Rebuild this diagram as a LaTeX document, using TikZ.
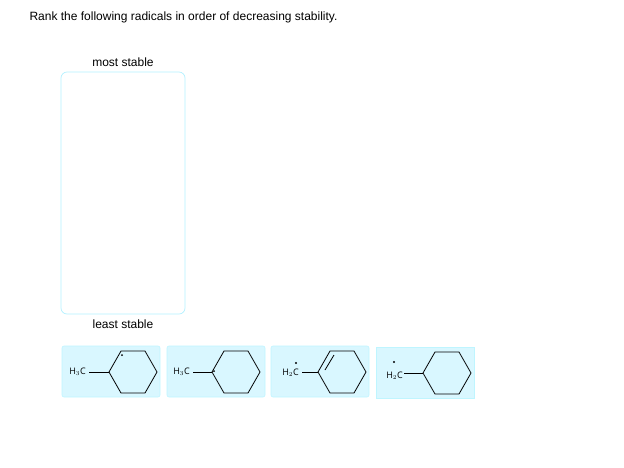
\documentclass[tikz,border=0pt]{standalone}
\usepackage{fontspec}
\setmainfont{Liberation Sans}
\newfontfamily\tilefont{Open Sans}
\begin{document}
\begin{tikzpicture}[x=1pt,y=-1pt,
  tile/.style={fill=blue!20!cyan!15, draw=blue!15!cyan!25, rounded corners=2pt, line width=0.6pt},
  bond/.style={line width=0.8pt, black},
  lbl/.style={font=\tilefont\fontsize{9}{10}\selectfont, inner sep=0pt}]
\useasboundingbox (0,0) rectangle (624,467);
\node[anchor=west, font=\fontsize{12}{14}\selectfont] (title) at (26,17) {Rank the following radicals in order of decreasing stability.};
\node[font=\fontsize{12}{14}\selectfont] (most) at (123,62) {most stable};
\draw[draw=blue!20!cyan!30, rounded corners=6pt, line width=0.7pt] (61,72) rectangle (185,314);
\node[font=\fontsize{12}{14}\selectfont] (least) at (123,324) {least stable};
% tiles
\draw[tile] (62,346) rectangle (160,397);
\draw[tile] (167,346) rectangle (265,397);
\draw[tile] (271,346) rectangle (369,397);
\draw[tile, rounded corners=0pt] (376,347) rectangle (474,398);
% hexagons
\foreach \cx/\cy in {133/372, 236/372, 342/372, 447/373} {
  \draw[bond] (\cx-24,\cy) -- (\cx-12,\cy-21) -- (\cx+12,\cy-21) -- (\cx+24,\cy) -- (\cx+12,\cy+21) -- (\cx-12,\cy+21) -- cycle;
}
% tile 1
\node[lbl, anchor=east] (t1) at (86,372) {H$_3$C};
\draw[bond] (89,372) -- (109,372);
\fill (122,355) circle (1pt);
% tile 2
\node[lbl, anchor=east] (t2) at (190,372) {H$_3$C};
\draw[bond] (193,372) -- (212,372);
\fill (214,371) circle (1pt);
% tile 3
\node[lbl, anchor=east] (t3) at (299,373) {H$_2$C};
\fill (296,363) circle (1.1pt);
\draw[bond] (302,372) -- (318,372);
\draw[bond] (325,370) -- (334,355);
% tile 4
\node[lbl, anchor=east] (t4) at (403,376) {H$_2$C};
\fill (394,362) circle (1.1pt);
\draw[bond] (404,373) -- (423,373);
\end{tikzpicture}
\end{document}
